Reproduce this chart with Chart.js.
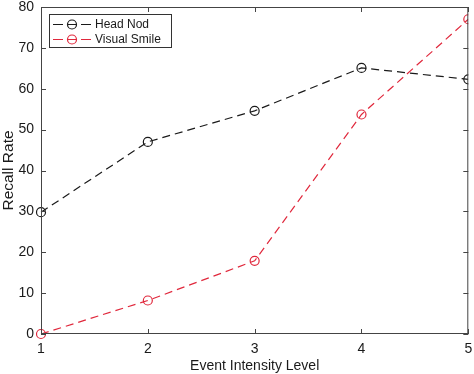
<!DOCTYPE html>
<html>
<head>
<meta charset="utf-8">
<script src="https://cdn.jsdelivr.net/npm/chart.js@4"></script>
<style>
  html, body { margin: 0; padding: 0; background: #fff; }
</style>
</head>
<body>
<canvas id="recallChart" width="474" height="374"></canvas>
<script>
const levels = [1, 2, 3, 4, 5];
const headNod = [29.8, 47.0, 54.6, 65.1, 62.3];
const visualSmile = [0, 8.2, 17.9, 53.7, 77.0];
const xTicks = [1, 2, 3, 4, 5];
const yTicks = [0, 10, 20, 30, 40, 50, 60, 70, 80];

const font = "'Liberation Sans', Arial, Helvetica, sans-serif";
const black = "#1a1a1a";
const red = "#e0283c";
const frame = "#444";

const series = [
  { label: "Head Nod", values: headNod, color: black },
  { label: "Visual Smile", values: visualSmile, color: red }
];

// box around the axes with matlab style inward ticks on every side
const framePlugin = {
  id: "frame",
  afterDatasetsDraw(chart) {
    const { ctx, chartArea: a, scales } = chart;
    const len = 5;
    ctx.save();
    ctx.strokeStyle = frame;
    ctx.lineWidth = 1;
    ctx.strokeRect(a.left + 0.5, a.top + 0.5, a.right - a.left - 1, a.bottom - a.top - 1);
    ctx.beginPath();
    xTicks.forEach(v => {
      const x = Math.round(scales.x.getPixelForValue(v)) + 0.5;
      ctx.moveTo(x, a.bottom);
      ctx.lineTo(x, a.bottom - len);
      ctx.moveTo(x, a.top);
      ctx.lineTo(x, a.top + len);
    });
    yTicks.forEach(v => {
      const y = Math.round(scales.y.getPixelForValue(v)) + 0.5;
      ctx.moveTo(a.left, y);
      ctx.lineTo(a.left + len, y);
      ctx.moveTo(a.right, y);
      ctx.lineTo(a.right - len, y);
    });
    ctx.stroke();
    ctx.restore();
  },
  afterDraw(chart) {
    const { ctx, chartArea: a } = chart;
    const left = a.left + 8;
    const top = a.top + 7;
    ctx.save();
    ctx.fillStyle = "#fff";
    ctx.fillRect(left, top, 122, 33);
    ctx.strokeStyle = "#333";
    ctx.lineWidth = 1;
    ctx.strokeRect(left + 0.5, top + 0.5, 122, 33);
    series.forEach((s, i) => {
      const y = top + 10.5 + i * 15;
      ctx.strokeStyle = s.color;
      ctx.lineWidth = 1.2;
      ctx.setLineDash([10, 4]);
      ctx.beginPath();
      ctx.moveTo(left + 4, y);
      ctx.lineTo(left + 42, y);
      ctx.stroke();
      ctx.setLineDash([]);
      ctx.beginPath();
      ctx.arc(left + 23, y, 4.5, 0, Math.PI * 2);
      ctx.stroke();
      ctx.fillStyle = black;
      ctx.font = `12px ${font}`;
      ctx.textBaseline = "middle";
      ctx.fillText(s.label, left + 46, y + 0.5);
    });
    ctx.restore();
  }
};

new Chart(document.getElementById("recallChart"), {
  type: "line",
  data: {
    datasets: series.map(s => ({
      label: s.label,
      data: levels.map((x, i) => ({ x, y: s.values[i] })),
      borderColor: s.color,
      borderWidth: 1.2,
      borderDash: [8, 5],
      backgroundColor: "transparent",
      pointStyle: "circle",
      pointRadius: 4.5,
      pointBorderWidth: 1.2,
      pointBorderColor: s.color,
      pointBackgroundColor: "transparent",
      tension: 0,
      clip: { left: false, top: false, right: 0, bottom: false }
    }))
  },
  options: {
    responsive: false,
    animation: false,
    devicePixelRatio: 1,
    layout: { padding: { top: 7, right: 4, left: 0, bottom: 0 } },
    plugins: {
      legend: { display: false },
      tooltip: { enabled: false }
    },
    scales: {
      x: {
        type: "linear",
        min: 1,
        max: 5,
        afterFit: scale => {
          scale.height = 40;
          scale.paddingLeft = 0;
          scale.paddingRight = 0;
        },
        afterBuildTicks: scale => { scale.ticks = xTicks.map(value => ({ value })); },
        grid: { display: false, drawTicks: false },
        border: { display: false },
        ticks: { color: black, padding: 7, font: { family: font, size: 14 } },
        title: {
          display: true,
          text: "Event Intensity Level",
          color: black,
          font: { family: font, size: 14, lineHeight: 1 },
          padding: { top: 0, bottom: 1 }
        }
      },
      y: {
        min: 0,
        max: 80,
        afterFit: scale => {
          scale.width = 41;
          scale.paddingTop = 0;
          scale.paddingBottom = 0;
        },
        afterBuildTicks: scale => { scale.ticks = yTicks.map(value => ({ value })); },
        grid: { display: false, drawTicks: false },
        border: { display: false },
        ticks: { color: black, padding: 7, font: { family: font, size: 14 } },
        title: {
          display: true,
          text: "Recall Rate",
          color: black,
          font: { family: font, size: 15.5, lineHeight: 1 },
          padding: { top: 0.5, bottom: 0 }
        }
      }
    }
  },
  plugins: [framePlugin]
});
</script>
</body>
</html>
